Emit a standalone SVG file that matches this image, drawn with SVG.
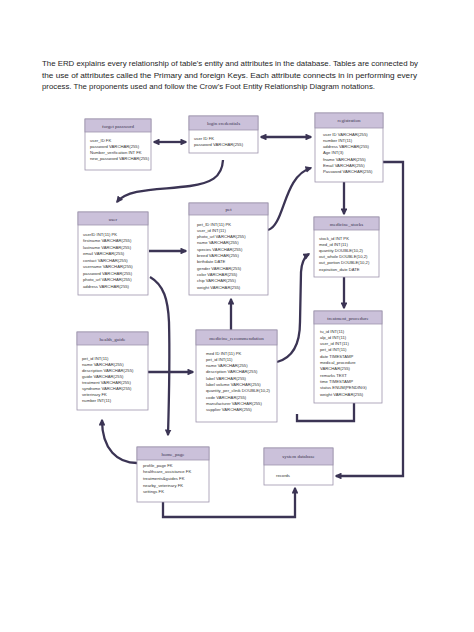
<svg xmlns="http://www.w3.org/2000/svg" width="474" height="632" viewBox="0 0 474 632">
<style>
.para{font-family:"Liberation Sans",Arial,sans-serif;font-size:7.8px;fill:#1e1e1e}
.box{fill:#ffffff;stroke:#9d93ac;stroke-width:0.8}
.hdr{fill:#cbc1da;stroke:#9d93ac;stroke-width:0.8}
.ttl{font-family:"Liberation Serif","Times New Roman",serif;font-size:5px;fill:#3a3350;text-anchor:middle}
.att{font-family:"Liberation Sans",Arial,sans-serif;font-size:4.2px;fill:#333}
.con{fill:none;stroke:#3b3454;stroke-width:2.3}
</style>
<defs>
<marker id="ah" viewBox="0 0 10 10" refX="8" refY="5" markerWidth="3" markerHeight="3" orient="auto-start-reverse" markerUnits="strokeWidth">
<path d="M0,0 L10,5 L0,10 z" fill="#3b3454"/>
</marker>
</defs>
<rect width="474" height="632" fill="#ffffff"/>
<g id="intro">
<text class="para" x="42" y="66" textLength="376" lengthAdjust="spacingAndGlyphs">The ERD explains every relationship of table's entity and attributes in the database. Tables are connected by</text>
<text class="para" x="42" y="77.5" textLength="375" lengthAdjust="spacingAndGlyphs">the use of attributes called the Primary and foreign Keys. Each attribute connects in in performing every</text>
<text class="para" x="42" y="89" textLength="333" lengthAdjust="spacingAndGlyphs">process. The proponents used and follow the Crow's Foot Entity Relationship Diagram notations.</text>
</g>
<g id="connectors">
<path class="con" d="M154,142 H186" marker-start="url(#ah)" marker-end="url(#ah)"/>
<path class="con" d="M261,137 H311" marker-start="url(#ah)" marker-end="url(#ah)"/>
<path class="con" d="M223,160 C222,178 210,183 190,186 C160,190 128,188 117,202" marker-end="url(#ah)"/>
<path class="con" d="M149,251 H186" marker-end="url(#ah)"/>
<path class="con" d="M150,277 C164,285 168,300 169,322 C170,360 169,400 168,435" marker-end="url(#ah)"/>
<path class="con" d="M268,230 C285,225 283,176 311,168" marker-end="url(#ah)"/>
<path class="con" d="M231,330 V299" marker-end="url(#ah)"/>
<path class="con" d="M277,362 C292,358 300,345 300,322 L301,272 Q302,258 309,254" marker-end="url(#ah)"/>
<path class="con" d="M344,182 V214" marker-end="url(#ah)"/>
<path class="con" d="M344,277 V308" marker-end="url(#ah)"/>
<path class="con" d="M354,403 V421 H297 V414"/>
<path class="con" d="M383,162 H403 V476 H336" marker-end="url(#ah)"/>
<path class="con" d="M148,372 H193" marker-end="url(#ah)"/>
<path class="con" d="M137,463 C118,463 102,450 102,420" marker-end="url(#ah)"/>
<path class="con" d="M163,502 V517 H295 V488" marker-end="url(#ah)"/>
</g>
<g id="forget_password">
<rect class="box" x="85" y="119" width="66" height="51"/>
<rect class="hdr" x="85" y="119" width="66" height="13"/>
<text class="ttl" x="118" y="127.5">forget password</text>
<text class="att" x="90" y="142">user_ID FK</text>
<text class="att" x="90" y="148">password VARCHAR(255)</text>
<text class="att" x="90" y="154">Number_verification INT FK</text>
<text class="att" x="90" y="160">new_password VARCHAR(255)</text>
</g>
<g id="login_credentials">
<rect class="box" x="189" y="116" width="69" height="37"/>
<rect class="hdr" x="189" y="116" width="69" height="14"/>
<text class="ttl" x="223.5" y="124.5">login credentials</text>
<text class="att" x="194" y="140">user ID FK</text>
<text class="att" x="194" y="146">password VARCHAR(255)</text>
</g>
<g id="registration">
<rect class="box" x="315" y="113" width="68" height="69"/>
<rect class="hdr" x="315" y="113" width="68" height="15"/>
<text class="ttl" x="349" y="122">registration</text>
<text class="att" x="323" y="135.5">user ID VARCHAR(255)</text>
<text class="att" x="323" y="141.8">number INT(11)</text>
<text class="att" x="323" y="148.1">address VARCHAR(255)</text>
<text class="att" x="323" y="154.4">Age INT(3)</text>
<text class="att" x="323" y="160.7">fname VARCHAR(255)</text>
<text class="att" x="323" y="167">Email VARCHAR(255)</text>
<text class="att" x="323" y="173.3">Password VARCHAR(255)</text>
</g>
<g id="user">
<rect class="box" x="78" y="212" width="70" height="83"/>
<rect class="hdr" x="78" y="212" width="70" height="13"/>
<text class="ttl" x="113" y="220.5">user</text>
<text class="att" x="83" y="235.5">userID INT(11) PK</text>
<text class="att" x="83" y="242">firstname VARCHAR(255)</text>
<text class="att" x="83" y="248.5">lastname VARCHAR(255)</text>
<text class="att" x="83" y="255">email VARCHAR(255)</text>
<text class="att" x="83" y="261.5">contact VARCHAR(255)</text>
<text class="att" x="83" y="268">username VARCHAR(255)</text>
<text class="att" x="83" y="274.5">password VARCHAR(255)</text>
<text class="att" x="83" y="281">photo_url VARCHAR(255)</text>
<text class="att" x="83" y="287.5">address VARCHAR(255)</text>
</g>
<g id="pet">
<rect class="box" x="189" y="203" width="79" height="92"/>
<rect class="hdr" x="189" y="203" width="79" height="12"/>
<text class="ttl" x="228.5" y="211">pet</text>
<text class="att" x="197" y="225.5">pet_ID INT(11) PK</text>
<text class="att" x="197" y="231.8">user_id INT(11)</text>
<text class="att" x="197" y="238.1">photo_url VARCHAR(255)</text>
<text class="att" x="197" y="244.4">name VARCHAR(255)</text>
<text class="att" x="197" y="250.7">species VARCHAR(255)</text>
<text class="att" x="197" y="257">breed VARCHAR(255)</text>
<text class="att" x="197" y="263.3">birthdate DATE</text>
<text class="att" x="197" y="269.6">gender VARCHAR(255)</text>
<text class="att" x="197" y="275.9">color VARCHAR(255)</text>
<text class="att" x="197" y="282.2">chip VARCHAR(255)</text>
<text class="att" x="197" y="288.5">weight VARCHAR(255)</text>
</g>
<g id="medicine_stocks">
<rect class="box" x="314" y="217" width="65" height="60"/>
<rect class="hdr" x="314" y="217" width="65" height="13"/>
<text class="ttl" x="346.5" y="225.5">medicine_stocks</text>
<text class="att" x="319" y="239.5">stock_id INT PK</text>
<text class="att" x="319" y="245.7">med_id INT(11)</text>
<text class="att" x="319" y="251.9">quantity DOUBLE(10,2)</text>
<text class="att" x="319" y="258.1">out_whole DOUBLE(10,2)</text>
<text class="att" x="319" y="264.3">out_portion DOUBLE(10,2)</text>
<text class="att" x="319" y="270.5">expiration_date DATE</text>
</g>
<g id="treatment_procedure">
<rect class="box" x="314" y="311" width="68" height="92"/>
<rect class="hdr" x="314" y="311" width="68" height="13"/>
<text class="ttl" x="348" y="319.5">treatment_procedure</text>
<text class="att" x="320" y="332.5">tu_id INT(11)</text>
<text class="att" x="320" y="338.8">alp_id INT(11)</text>
<text class="att" x="320" y="345.1">user_id INT(11)</text>
<text class="att" x="320" y="351.4">pet_id INT(11)</text>
<text class="att" x="320" y="357.7">date TIMESTAMP</text>
<text class="att" x="320" y="364">medical_procedure</text>
<text class="att" x="320" y="370.3">VARCHAR(255)</text>
<text class="att" x="320" y="376.6">remarks TEXT</text>
<text class="att" x="320" y="382.9">time TIMESTAMP</text>
<text class="att" x="320" y="389.2">status ENUM(PENDING)</text>
<text class="att" x="320" y="395.5">weight VARCHAR(255)</text>
</g>
<g id="health_guide">
<rect class="box" x="77" y="332" width="71" height="78"/>
<rect class="hdr" x="77" y="332" width="71" height="13"/>
<text class="ttl" x="112.5" y="340.5">health_guide</text>
<text class="att" x="82" y="359.5">pet_id INT(11)</text>
<text class="att" x="82" y="365.5">name VARCHAR(255)</text>
<text class="att" x="82" y="371.5">description VARCHAR(255)</text>
<text class="att" x="82" y="377.5">guide VARCHAR(255)</text>
<text class="att" x="82" y="383.5">treatment VARCHAR(255)</text>
<text class="att" x="82" y="389.5">syndrome VARCHAR(255)</text>
<text class="att" x="82" y="395.5">veterinary FK</text>
<text class="att" x="82" y="401.5">number INT(11)</text>
</g>
<g id="medicine_recommendation">
<rect class="box" x="196" y="330" width="81" height="92"/>
<rect class="hdr" x="196" y="330" width="81" height="15"/>
<text class="ttl" x="236.5" y="339.5">medicine_recommendation</text>
<text class="att" x="206" y="354.5">med ID INT(11) PK</text>
<text class="att" x="206" y="360.8">pet_id INT(11)</text>
<text class="att" x="206" y="367.1">name VARCHAR(255)</text>
<text class="att" x="206" y="373.4">description VARCHAR(255)</text>
<text class="att" x="206" y="379.7">label VARCHAR(255)</text>
<text class="att" x="206" y="386">label volume VARCHAR(255)</text>
<text class="att" x="206" y="392.3">quantity_per_clinik DOUBLE(10,2)</text>
<text class="att" x="206" y="398.6">code VARCHAR(255)</text>
<text class="att" x="206" y="404.9">manufacturer VARCHAR(255)</text>
<text class="att" x="206" y="411.2">supplier VARCHAR(255)</text>
</g>
<g id="home_page">
<rect class="box" x="137" y="447" width="72" height="55"/>
<rect class="hdr" x="137" y="447" width="72" height="13"/>
<text class="ttl" x="173" y="455.5">home_page</text>
<text class="att" x="143" y="466.5">profile_page FK</text>
<text class="att" x="143" y="473.2">healthcare_assistance FK</text>
<text class="att" x="143" y="479.9">treatments&amp;guides FK</text>
<text class="att" x="143" y="486.6">nearby_veterinary FK</text>
<text class="att" x="143" y="493.3">settings FK</text>
</g>
<g id="system_database">
<rect class="box" x="264" y="448" width="69" height="37"/>
<rect class="hdr" x="264" y="448" width="69" height="17"/>
<text class="ttl" x="298.5" y="458">system database</text>
<text class="att" x="276" y="476.5">records</text>
</g>
</svg>
